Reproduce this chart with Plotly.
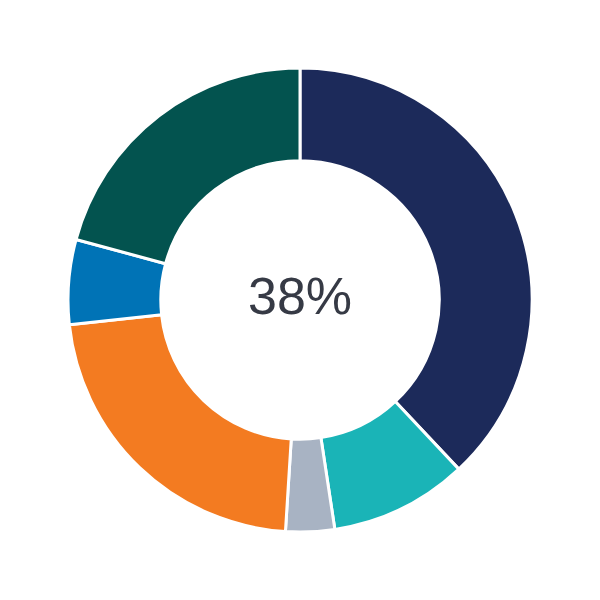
import plotly.graph_objects as go

# Slice shares, clockwise from 12 o'clock
labels = ['Navy', 'Teal', 'Grey', 'Orange', 'Blue', 'Green']
values = [38, 9.6, 3.4, 22.3, 5.9, 20.8]
colors = ['#1c2a5a', '#1ab4b7', '#a8b3c3', '#f37b21', '#0073b6', '#03534f']
center_label = '38%'

fig = go.Figure(go.Pie(
    labels=labels,
    values=values,
    hole=0.6,
    sort=False,
    direction='clockwise',
    rotation=0,
    marker=dict(colors=colors, line=dict(color='white', width=3)),
    textinfo='none',
    hoverinfo='label+percent',
    showlegend=False,
))

fig.add_annotation(
    text=center_label, x=0.5, y=0.5, xref='paper', yref='paper',
    showarrow=False, yshift=4,
    font=dict(family='Liberation Sans, Arial, sans-serif', size=52, color='#363a45'),
)

# page renders with an 8px offset, so shift the plot area up/left
fig.update_layout(
    width=600, height=600,
    margin=dict(l=60, r=76, t=60, b=76),
    paper_bgcolor='white',
    plot_bgcolor='white',
)

fig.write_html('out.html')
